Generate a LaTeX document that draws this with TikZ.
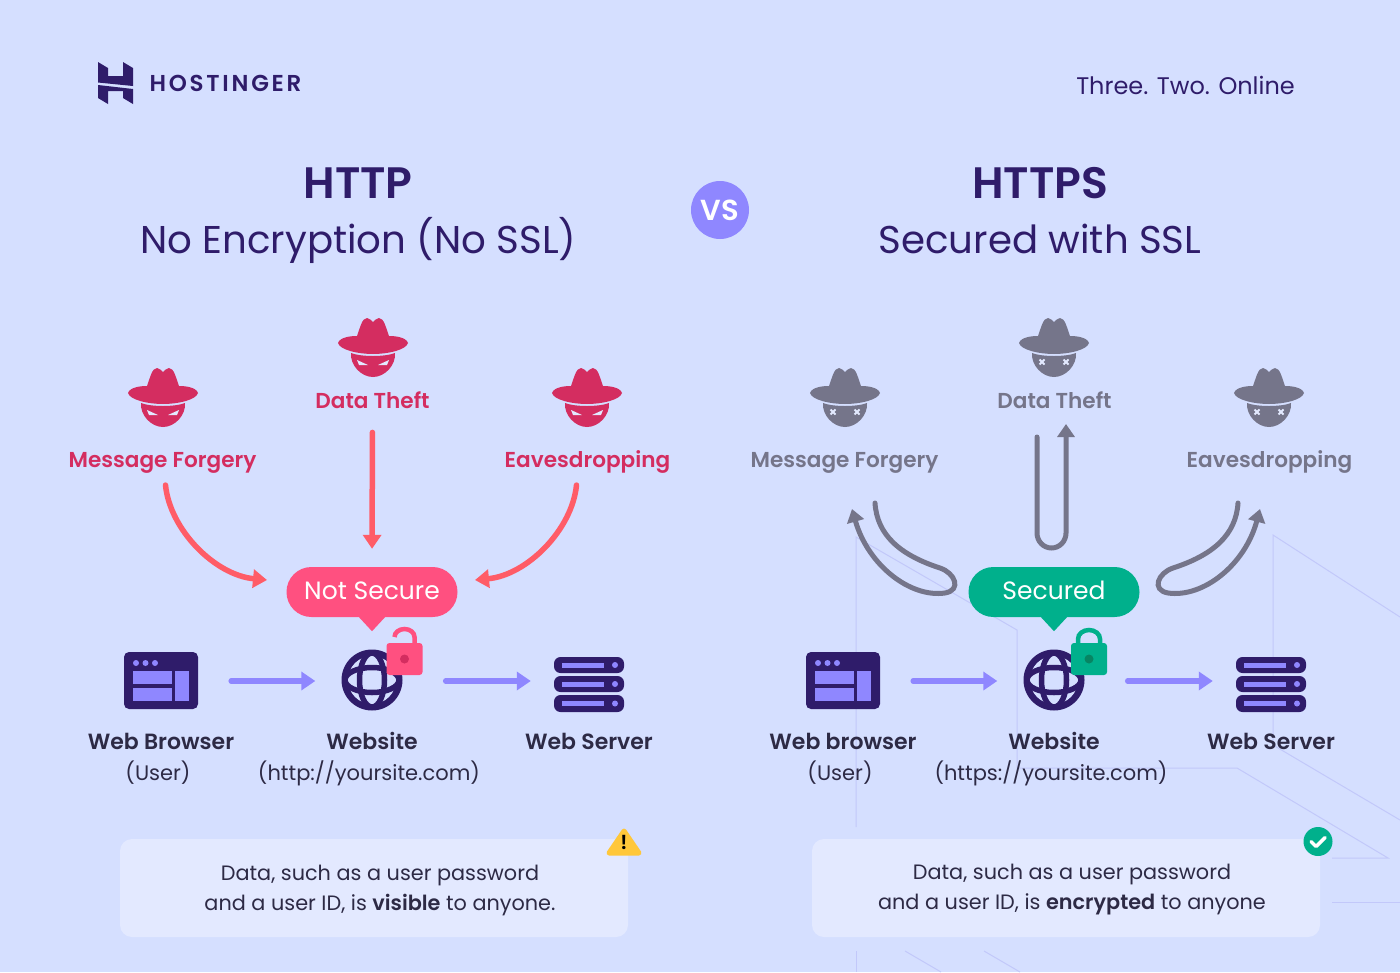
\documentclass[tikz,border=0pt]{standalone}
\usepackage{fontspec}
\setmainfont{Poppins}[BoldFont={Poppins SemiBold}]
\usetikzlibrary{arrows.meta}

\definecolor{bgblue}{HTML}{D5DFFF}
\definecolor{navy}{HTML}{2F1C6A}
\definecolor{ink}{HTML}{2D2A45}
\definecolor{violet}{HTML}{8F87FF}
\definecolor{hatred}{HTML}{D42D60}
\definecolor{arrowred}{HTML}{FF5C67}
\definecolor{pillred}{HTML}{FF5080}
\definecolor{mint}{HTML}{00B08C}
\definecolor{darkmint}{HTML}{078563}
\definecolor{slate}{HTML}{75758A}
\definecolor{notefill}{HTML}{E3E9FF}
\definecolor{trace}{HTML}{C2C8FA}
\definecolor{amber}{HTML}{FFC73A}

\tikzset{
    label/.style={inner sep=0pt, anchor=base, text=ink, font=\fontsize{21}{21}\selectfont},
    labelbold/.style={inner sep=0pt, anchor=base, text=ink, font=\fontsize{22}{22}\selectfont\bfseries},
    threat/.style={inner sep=0pt, anchor=base, font=\fontsize{21.6}{21.6}\selectfont\bfseries},
    heading/.style={inner sep=0pt, anchor=base, text=navy, font=\fontsize{38.7}{38.7}\selectfont},
    headingbold/.style={inner sep=0pt, anchor=base, text=navy, font=\fontsize{44}{44}\selectfont\bfseries},
    pill/.style={inner sep=0pt, minimum width=171pt, minimum height=50pt, rounded corners=24.9pt},
    pilltext/.style={inner sep=0pt, anchor=base, text=white, font=\fontsize{25}{25}\selectfont},
    icon/.style={inner sep=0pt, minimum width=#1, minimum height=57pt},
    notebox/.style={inner sep=0pt, minimum width=508pt, minimum height=98pt, rounded corners=12pt, fill=notefill},
    notetext/.style={inner sep=0pt, text=ink, align=center, font=\fontsize{20.8}{30}\selectfont},
    redline/.style={draw=arrowred, line width=5.5pt, line cap=round, -{Triangle[length=14pt,width=18pt]}},
    greyline/.style={draw=slate, line width=5pt, line cap=round, -{Triangle[length=13pt,width=17pt]}},
    flowline/.style={draw=violet, line width=5.5pt, line cap=round, -{Triangle[length=14pt,width=18pt]}},
    traceline/.style={draw=trace, line width=1pt},
    pics/hat/.style={code={
        \fill[#1] (-35,-7) .. controls (-33,-13) and (-22,-14) .. (-16,-14)
            .. controls (-13,-22) and (-11,-32) .. (-6,-32)
            .. controls (-3,-32) and (-2,-29) .. (0,-28)
            .. controls (2,-29) and (3,-32) .. (6,-32)
            .. controls (11,-32) and (13,-22) .. (16,-14)
            .. controls (22,-14) and (33,-13) .. (35,-7)
            .. controls (33,0) and (15,4) .. (0,4)
            .. controls (-15,4) and (-33,0) .. (-35,-7) -- cycle;
        \fill[#1] (-22,3) .. controls (-12,7) and (12,7) .. (22,3)
            .. controls (23,15) and (12,27) .. (0,27)
            .. controls (-12,27) and (-23,15) .. (-22,3) -- cycle;
    }},
    pics/spyred/.style={code={
        \pic {hat=hatred};
        \fill[notefill] (-16,10) -- (-5,15) -- (-14,15) -- cycle;
        \fill[notefill] (16,10) -- (5,15) -- (14,15) -- cycle;
    }},
    pics/spygrey/.style={code={
        \pic {hat=slate};
        \draw[notefill, line width=2pt] (-14.5,9.5) -- (-9.5,14.5) (-14.5,14.5) -- (-9.5,9.5);
        \draw[notefill, line width=2pt] (14.5,9.5) -- (9.5,14.5) (14.5,14.5) -- (9.5,9.5);
    }},
    pics/browser/.style={code={
        \fill[navy, rounded corners=5pt] (-37,-29) rectangle (37,28);
        \fill[violet] (-25,-18) circle (3);
        \fill[violet] (-15.5,-18) circle (3);
        \fill[violet] (-6,-18) circle (3);
        \fill[violet] (-28,-10) rectangle (11,3);
        \fill[violet] (-28,7) rectangle (11,20);
        \fill[violet] (14,-10) rectangle (28,20);
    }},
    pics/globe/.style={code={
        \fill[navy] (0,-1) circle (30.5);
        \fill[bgblue] (0,-1) circle (24);
        \draw[navy, line width=5.5pt] (0,-1) ellipse (12.5 and 27);
        \draw[navy, line width=5.5pt] (0,-1) ellipse (27 and 12.5);
    }},
    pics/server/.style={code={
        \fill[navy, rounded corners=6.5pt] (-35,-24) rectangle (35,-8);
        \fill[navy, rounded corners=6.5pt] (-35,-5) rectangle (35,11);
        \fill[navy, rounded corners=6.5pt] (-35,14) rectangle (35,31);
        \fill[violet] (-27,-18.5) rectangle (15,-13.5);
        \fill[violet] (-27,0.5) rectangle (15,5.5);
        \fill[violet] (-27,20) rectangle (15,25);
        \fill[violet] (26,-16) circle (3);
        \fill[violet] (26,3) circle (3);
        \fill[violet] (26,22.5) circle (3);
    }},
    pics/lockshut/.style 2 args={code={
        \draw[#1, line width=4.5pt] (-11,-14) -- (-11,-20) arc[start angle=180, end angle=360, x radius=11, y radius=9] -- (11,-14);
        \fill[#1, rounded corners=3pt] (-18,-16) rectangle (18,16);
        \fill[#2] (0,0) circle (4.5);
    }},
    pics/lockopen/.style 2 args={code={
        \draw[#1, line width=4.5pt] (-10,-22) arc[start angle=180, end angle=360, x radius=10, y radius=8] -- (10,-14);
        \fill[#1, rounded corners=3pt] (-18,-16) rectangle (18,16);
        \fill[#2] (0,0) circle (4.5);
    }},
}

\begin{document}
\begin{tikzpicture}[x=1pt, y=-1pt]
    \useasboundingbox (0,0) rectangle (1400,972);
    \fill[bgblue] (0,0) rectangle (1400,972);

    % Draw background traces
    \draw[traceline] (856,827) -- (856,537) -- (1017,630) -- (1017,768) -- (1237,768) -- (1388,858) -- (1332,858);
    \draw[traceline] (1332,902) -- (1400,902);
    \draw[traceline] (856,951) -- (856,972);
    \draw[traceline] (905,951) -- (941,972);
    \draw[traceline] (984,951) -- (1020,972);
    \draw[traceline] (1273,745) -- (1273,535) -- (1400,617);
    \draw[traceline] (1273,745) -- (1400,820);

    % Draw logo
    \fill[navy] (98,62) -- (108,68) -- (108,76) -- (123,76) -- (123,62) -- (133,68) -- (133,86) -- (98,82.5) -- cycle;
    \fill[navy] (98,85) -- (133,89) -- (133,104) -- (123,98) -- (123,91) -- (108,91) -- (108,104) -- (98,98) -- cycle;
    \node[inner sep=0pt, anchor=base, text=navy, font=\fontsize{23}{23}\selectfont\bfseries\addfontfeature{LetterSpace=12}] (logo) at (225.5,91) {HOSTINGER};
    \node[inner sep=0pt, anchor=base, text=navy, font=\fontsize{24}{24}\selectfont] (slogan) at (1185.5,94) {Three. Two. Online};

    % Draw headings
    \node[headingbold] (http) at (358,198.5) {HTTP};
    \node[heading] (httpsub) at (358.5,253) {No Encryption (No SSL)};
    \node[headingbold] (https) at (1040,198.5) {HTTPS};
    \node[heading] (httpssub) at (1040,253) {Secured with SSL};
    \node[circle, fill=violet, minimum size=58pt, inner sep=0pt, text=white, font=\fontsize{29}{29}\selectfont\bfseries] (vs) at (720,210) {VS};

    % Draw spies
    \pic at (163,400) {spyred};
    \pic at (373,350) {spyred};
    \pic at (587,400) {spyred};
    \pic at (845,400) {spygrey};
    \pic at (1054,350) {spygrey};
    \pic at (1269,400) {spygrey};

    % Threat labels
    \node[threat, text=hatred] (mfa) at (162.5,467) {Message Forgery};
    \node[threat, text=hatred] (dta) at (372.5,408) {Data Theft};
    \node[threat, text=hatred] (eda) at (587.5,467) {Eavesdropping};
    \node[threat, text=slate] (mfb) at (844.5,467) {Message Forgery};
    \node[threat, text=slate] (dtb) at (1054.5,408) {Data Theft};
    \node[threat, text=slate] (edb) at (1269.5,467) {Eavesdropping};

    % Draw status pills
    \node[pill, fill=pillred] (unsafe) at (372,592) {};
    \node[pill, fill=mint] (safe) at (1054,592) {};
    \node[pilltext] (unsafetext) at (372,599) {Not Secure};
    \node[pilltext] (safetext) at (1054,599) {Secured};
    \fill[pillred] ([xshift=-13pt]unsafe.south) -- ([xshift=13pt]unsafe.south) -- ++(-13,14) -- cycle;
    \fill[mint] ([xshift=-13pt]safe.south) -- ([xshift=13pt]safe.south) -- ++(-13,14) -- cycle;

    % Draw icons
    \node[icon=74pt] (bra) at (161,681) {};
    \node[icon=61pt] (gla) at (372,681) {};
    \node[icon=70pt] (sra) at (589,681) {};
    \node[icon=74pt] (brb) at (843,681) {};
    \node[icon=61pt] (glb) at (1054,681) {};
    \node[icon=70pt] (srb) at (1271,681) {};
    \pic at (bra) {browser};
    \pic at (gla) {globe};
    \pic at (sra) {server};
    \pic at (brb) {browser};
    \pic at (glb) {globe};
    \pic at (srb) {server};
    \pic at (404.5,659) {lockopen={pillred}{hatred}};
    \pic at (1089,659) {lockshut={mint}{darkmint}};

    % Draw connections
    \coordinate (ula) at (267,580);
    \coordinate (ura) at (475,580);
    \draw[redline] ([xshift=3pt,yshift=-12pt]mfa.south) .. controls (170,530) and (215,575) .. (ula);
    \draw[redline, shorten <=24pt, shorten >=18pt] (dta.south) -- (unsafe.north);
    \draw[redline] ([xshift=-11pt,yshift=-12pt]eda.south) .. controls (572,530) and (527,575) .. (ura);
    \coordinate (ltb) at (875,503);
    \coordinate (lhb) at (852,509);
    \coordinate (mtb) at (1037,437);
    \coordinate (mhb) at (1066,424);
    \coordinate (rtb) at (1238,503);
    \coordinate (rhb) at (1260,509);
    \draw[greyline] (ltb) .. controls (877,535) and (900,555) .. (940,568) .. controls (955,573) and (962,590) .. (945,593) .. controls (910,598) and (868,565) .. (lhb);
    \draw[greyline] (mtb) -- (1037,533) arc[start angle=180, end angle=0, x radius=14.5, y radius=15] -- (mhb);
    \draw[greyline] (rtb) .. controls (1236,535) and (1213,555) .. (1173,568) .. controls (1158,573) and (1151,590) .. (1168,593) .. controls (1203,598) and (1245,565) .. (rhb);
    \draw[flowline, shorten <=33pt, shorten >=26pt] (bra.east) -- (gla.west);
    \draw[flowline, shorten <=43pt, shorten >=23pt] (gla.east) -- (sra.west);
    \draw[flowline, shorten <=33pt, shorten >=26pt] (brb.east) -- (glb.west);
    \draw[flowline, shorten <=43pt, shorten >=23pt] (glb.east) -- (srb.west);

    % Labels
    \node[labelbold] (brta) at (161,749) {Web Browser};
    \node[label] (brua) at (158,780) {(User)};
    \node[labelbold] (glta) at (372,749) {Website};
    \node[label] (glua) at (369,780) {(http://yoursite.com)};
    \node[labelbold] (srta) at (589,749) {Web Server};
    \node[labelbold] (brtb) at (843,749) {Web browser};
    \node[label] (brub) at (840,780) {(User)};
    \node[labelbold] (gltb) at (1054,749) {Website};
    \node[label] (glub) at (1051,780) {(https://yoursite.com)};
    \node[labelbold] (srtb) at (1271,749) {Web Server};

    % Draw notes
    \node[notebox] (notea) at (374,888) {};
    \node[notebox] (noteb) at (1066,888) {};
    \node[notetext] (notetexta) at (380,890) {Data, such as a user password\\and a user ID, is \textbf{visible} to anyone.};
    \node[notetext] (notetextb) at (1072,890) {Data, such as a user password\\and a user ID, is \textbf{encrypted} to anyone};

    % Draw badges
    \filldraw[draw=amber, fill=amber, line width=5pt, line join=round] (624,831) -- (639,853) -- (609,853) -- cycle;
    \node[inner sep=0pt, text=black, font=\fontsize{20}{20}\selectfont\bfseries] (warn) at (624,842) {!};
    \node[circle, fill=mint, minimum size=29pt, inner sep=0pt] (tick) at (1318,841.5) {};
    \draw[white, line width=3.5pt, line cap=round, line join=round] ([xshift=-7pt]tick.center) -- ([xshift=-2pt,yshift=-5pt]tick.center) -- ([xshift=7pt,yshift=4pt]tick.center);
\end{tikzpicture}
\end{document}
